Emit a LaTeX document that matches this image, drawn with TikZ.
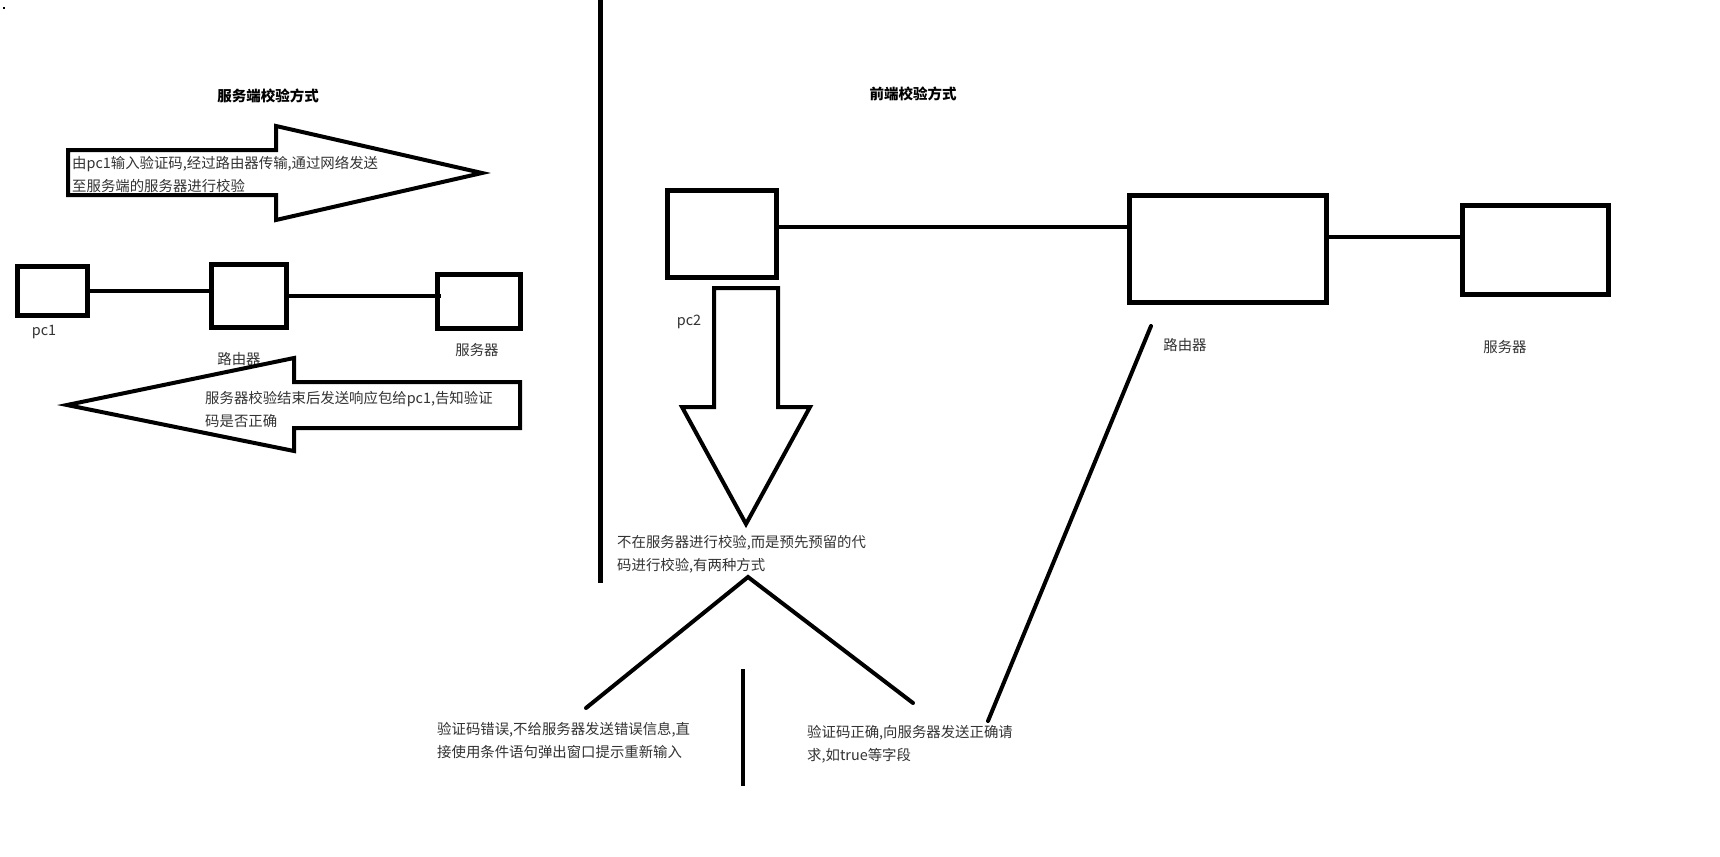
\documentclass[tikz,border=0pt]{standalone}
\usepackage{fontspec}
\setmainfont{Noto Sans CJK SC}
\newfontfamily\cjk{Noto Sans CJK SC}
\begin{document}
\begin{tikzpicture}[x=1pt,y=-1pt,
  boxnode/.style={draw=black,line width=4.8pt,inner sep=0pt,rectangle},
  bigarrow/.style={draw=black,line width=4pt,line join=miter},
  conn/.style={draw=black,line width=4pt},
  txt/.style={inner sep=0pt,anchor=base west,align=left,text=black!80,
    font=\cjk\fontsize{14.4}{23.5}\selectfont},
  lbl/.style={inner sep=0pt,anchor=base,text=black!80,
    font=\cjk\fontsize{14.4}{17}\selectfont},
  ttl/.style={inner sep=0pt,anchor=base,text=black,
    font=\cjk\bfseries\fontsize{14.5}{17}\selectfont}]
\useasboundingbox[fill=white] (0,0) rectangle (1720,856);
% tiny dot
\fill[black] (3,7) rectangle (5,9);
% divider
\draw[line width=5pt] (600,0) -- (600,583);

% ---------- left part ----------
\node[ttl] (ttl1) at (268,102) {服务端校验方式};
\draw[bigarrow] (68,150) -- (276,150) -- (276,126) -- (482,173) -- (276,220) -- (276,195) -- (68,195) -- cycle;
\node[txt] (t1) at (72,191.5) {由pc1输入验证码,经过路由器传输,通过网络发送\\至服务端的服务器进行校验};

\node[boxnode,minimum width=70pt,minimum height=49.5pt] (pc1) at (52.5,291) {};
\node[boxnode,minimum width=75pt,minimum height=63.5pt] (router1) at (249,296) {};
\node[boxnode,minimum width=83.5pt,minimum height=54.5pt] (server1) at (479,301.5) {};
\draw[conn] (pc1.east) -- (pc1.east -| router1.west);
\draw[conn,shorten >=-6pt] (router1.east) -- (router1.east -| server1.west);
\node[lbl] (lpc1) at (44,335) {pc1};
\node[lbl] (lrouter1) at (239,364) {路由器};
\node[lbl] (lserver1) at (477,355) {服务器};

\draw[bigarrow] (67,405) -- (294,358) -- (294,382) -- (520,382) -- (520,428) -- (294,428) -- (294,451) -- cycle;
\node[txt] (t2) at (205,426.5) {服务器校验结束后发送响应包给pc1,告知验证\\码是否正确};

% ---------- right part ----------
\node[ttl] (ttl2) at (913,100) {前端校验方式};
\node[boxnode,minimum width=109pt,minimum height=87pt] (pc2) at (722,234) {};
\node[boxnode,minimum width=197pt,minimum height=107pt] (router2) at (1228,249) {};
\node[boxnode,minimum width=146pt,minimum height=89pt] (server2) at (1535.5,250) {};
\coordinate (y227) at (0,227);
\coordinate (y237) at (0,237);
\draw[conn] (pc2.east |- y227) -- (router2.west |- y227);
\draw[conn] (router2.east |- y237) -- (server2.west |- y237);
\node[lbl] (lpc2) at (689,325) {pc2};
\node[lbl] (lrouter2) at (1185,350) {路由器};
\node[lbl] (lserver2) at (1505,352) {服务器};

\draw[bigarrow] (714,288) -- (778,288) -- (778,407) -- (810,407) -- (746,524) -- (682,407) -- (714,407) -- cycle;
\node[txt] (t3) at (617,570.5) {不在服务器进行校验,而是预先预留的代\\码进行校验,有两种方式};

\coordinate (apex) at (748,577);
\coordinate (bl) at (586,708);
\coordinate (br) at (913,703);
\draw[conn,line cap=round] (bl) -- (apex) -- (br);
\coordinate (va) at (743,669);
\coordinate (vb) at (743,786);
\draw[conn] (va) -- (vb);
\coordinate (ra) at (1151,326);
\coordinate (rb) at (988,721);
\draw[conn,line cap=round] (ra) -- (rb);

\node[txt] (t4) at (437,757.5) {验证码错误,不给服务器发送错误信息,直\\接使用条件语句弹出窗口提示重新输入};
\node[txt] (t5) at (807,760.5) {验证码正确,向服务器发送正确请\\求,如true等字段};
\end{tikzpicture}
\end{document}
